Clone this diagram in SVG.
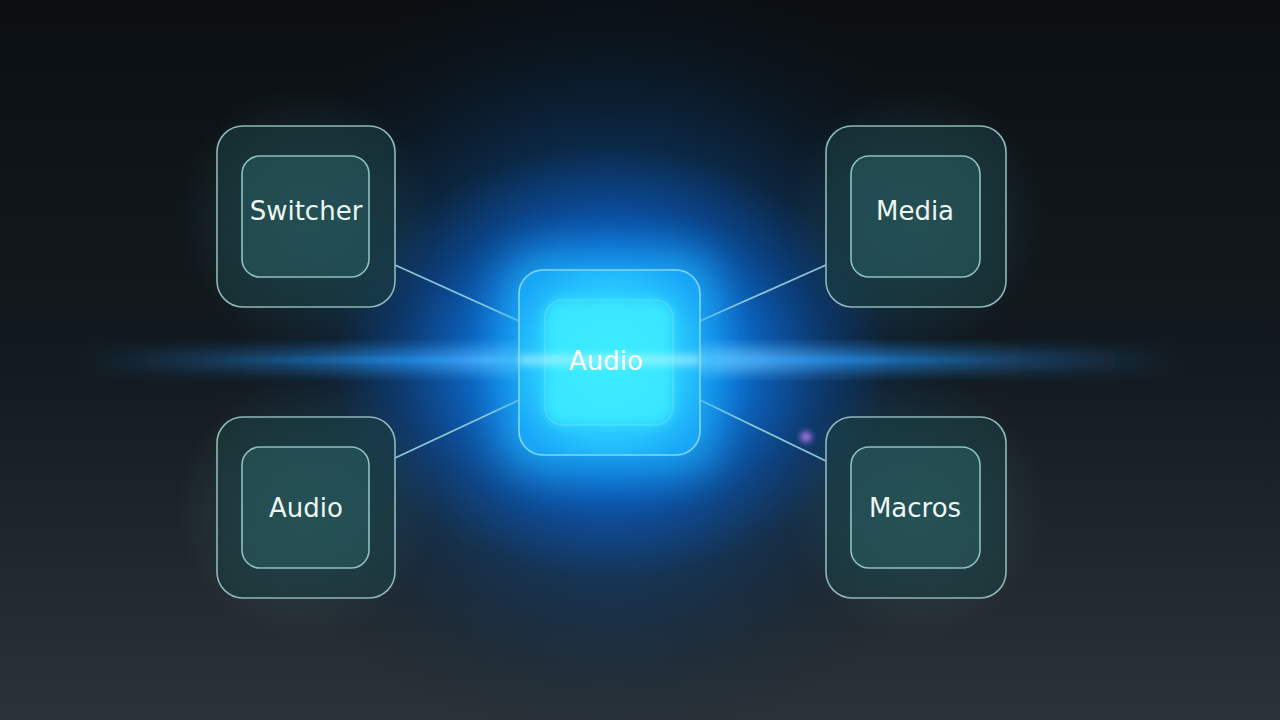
<svg xmlns="http://www.w3.org/2000/svg" width="1280" height="720" viewBox="0 0 1280 720">
<defs>
<linearGradient id="bg" x1="0" y1="0" x2="0" y2="1">
<stop offset="0" stop-color="#0b0f12"/>
<stop offset="0.5" stop-color="#131a1f"/>
<stop offset="1" stop-color="#2c3338"/>
</linearGradient>
<radialGradient id="glow" cx="610" cy="362" r="400" gradientUnits="userSpaceOnUse">
<stop offset="0" stop-color="#1a8cff" stop-opacity="1"/>
<stop offset="0.3" stop-color="#0b62cc" stop-opacity="0.75"/>
<stop offset="0.55" stop-color="#08407e" stop-opacity="0.45"/>
<stop offset="0.8" stop-color="#052848" stop-opacity="0.18"/>
<stop offset="1" stop-color="#041a30" stop-opacity="0"/>
</radialGradient>
<radialGradient id="glow2" cx="610" cy="362" r="240" gradientUnits="userSpaceOnUse" gradientTransform="translate(610 362) scale(1.15 0.9) translate(-610 -362)">
<stop offset="0" stop-color="#1ab0ff" stop-opacity="1"/>
<stop offset="0.4" stop-color="#0d86f0" stop-opacity="0.7"/>
<stop offset="0.75" stop-color="#0a60d0" stop-opacity="0.25"/>
<stop offset="1" stop-color="#0a60d0" stop-opacity="0"/>
</radialGradient>
<radialGradient id="nodeglow" cx="0.5" cy="0.5" r="0.5">
<stop offset="0" stop-color="#3a8088" stop-opacity="0.35"/>
<stop offset="1" stop-color="#3a8088" stop-opacity="0"/>
</radialGradient>
<linearGradient id="streak" x1="0" y1="0" x2="1" y2="0">
<stop offset="0" stop-color="#1e90ff" stop-opacity="0"/>
<stop offset="0.3" stop-color="#2a9dff" stop-opacity="0.7"/>
<stop offset="0.5" stop-color="#b0f0ff" stop-opacity="1"/>
<stop offset="0.7" stop-color="#2a9dff" stop-opacity="0.7"/>
<stop offset="1" stop-color="#1e90ff" stop-opacity="0"/>
</linearGradient>
<radialGradient id="core" cx="0.5" cy="0.5" r="0.6">
<stop offset="0" stop-color="#40e8ff"/>
<stop offset="0.7" stop-color="#28c8ff"/>
<stop offset="1" stop-color="#1aa8f8"/>
</radialGradient>
<filter id="blur8" x="-50%" y="-50%" width="200%" height="200%"><feGaussianBlur stdDeviation="8"/></filter>
<filter id="blur3" x="-50%" y="-50%" width="200%" height="200%"><feGaussianBlur stdDeviation="3"/></filter>
<filter id="blur6" x="-50%" y="-50%" width="200%" height="200%"><feGaussianBlur stdDeviation="6"/></filter>
<filter id="blur20" x="-50%" y="-50%" width="200%" height="200%"><feGaussianBlur stdDeviation="22"/></filter>
</defs>
<style>
.outer{fill:#1c4044;fill-opacity:0.55;stroke:#8fb8b8;stroke-width:1.6}
.inner{fill:#2a5c60;fill-opacity:0.55;stroke:#8fc0c0;stroke-width:1.6}
.lbl{font-family:"DejaVu Sans","Liberation Sans",sans-serif;font-size:26px;fill:#eef6f4;text-anchor:middle;dominant-baseline:central}
.conn{stroke:#8cc4d4;stroke-width:1.8;fill:none}
</style>
<rect width="1280" height="720" fill="url(#bg)"/>
<rect width="1280" height="720" fill="url(#glow)"/>
<rect width="1280" height="720" fill="url(#glow2)"/>
<ellipse cx="306" cy="216" rx="130" ry="130" fill="url(#nodeglow)"/>
<ellipse cx="306" cy="507" rx="130" ry="130" fill="url(#nodeglow)"/>
<ellipse cx="916" cy="216" rx="130" ry="130" fill="url(#nodeglow)"/>
<ellipse cx="916" cy="507" rx="130" ry="130" fill="url(#nodeglow)"/>
<rect x="80" y="350" width="1100" height="20" fill="url(#streak)" filter="url(#blur8)"/>
<rect x="200" y="358" width="820" height="4" fill="url(#streak)" filter="url(#blur3)"/>
<g id="connectors">
<line class="conn" x1="395" y1="265" x2="519" y2="321"/>
<line class="conn" x1="395" y1="458" x2="519" y2="400"/>
<line class="conn" x1="826" y1="265" x2="700" y2="321"/>
<line class="conn" x1="826" y1="461" x2="700" y2="400"/>
</g>
<g id="node-switcher">
<rect class="outer" x="217" y="126" width="178" height="181" rx="26"/>
<rect class="inner" x="242" y="156" width="127" height="121" rx="18"/>
<text class="lbl" x="306" y="211">Switcher</text>
</g>
<g id="node-audio-left">
<rect class="outer" x="217" y="417" width="178" height="181" rx="26"/>
<rect class="inner" x="242" y="447" width="127" height="121" rx="18"/>
<text class="lbl" x="306" y="508">Audio</text>
</g>
<g id="node-media">
<rect class="outer" x="826" y="126" width="180" height="181" rx="26"/>
<rect class="inner" x="851" y="156" width="129" height="121" rx="18"/>
<text class="lbl" x="915" y="211">Media</text>
</g>
<g id="node-macros">
<rect class="outer" x="826" y="417" width="180" height="181" rx="26"/>
<rect class="inner" x="851" y="447" width="129" height="121" rx="18"/>
<text class="lbl" x="915" y="508">Macros</text>
</g>
<g id="node-audio-center">
<rect x="505" y="256" width="210" height="214" rx="30" fill="#22c0ff" opacity="0.7" filter="url(#blur20)"/>
<rect x="519" y="270" width="181" height="185" rx="24" fill="url(#core)" fill-opacity="0.85" stroke="#7ed8ff" stroke-width="1.6"/>
<rect x="545" y="300" width="128" height="125" rx="18" fill="#3ff0ff" fill-opacity="0.75" filter="url(#blur6)"/>
<rect x="545" y="300" width="128" height="125" rx="18" fill="none" stroke="#a8f4ff" stroke-opacity="0.3" stroke-width="1.2"/>
<rect x="519" y="354" width="181" height="12" fill="#c8fbff" opacity="0.45" filter="url(#blur3)"/>
<text class="lbl" x="606" y="361" style="fill:#ffffff">Audio</text>
</g>
<circle cx="806" cy="437" r="5" fill="#c080ff" filter="url(#blur3)"/>
</svg>
